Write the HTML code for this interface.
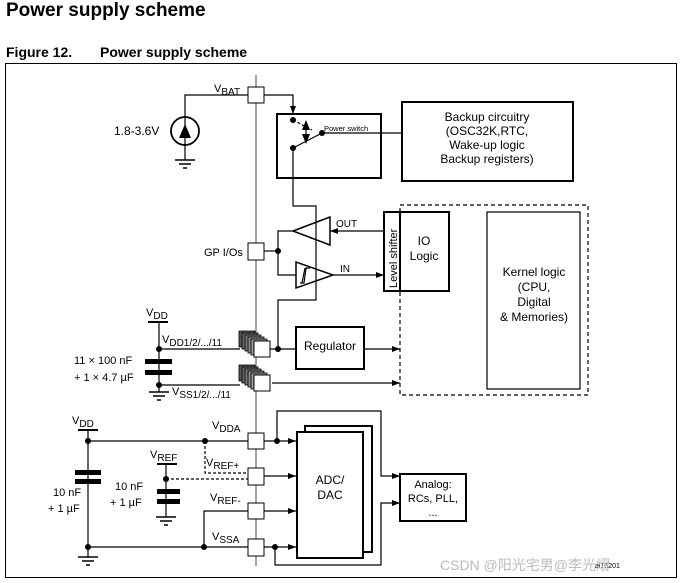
<!DOCTYPE html>
<html><head><style>
html,body{margin:0;padding:0;background:#fff;width:681px;height:583px;overflow:hidden}
svg{display:block;font-family:"Liberation Sans",Arial,sans-serif}
</style></head><body>
<svg width="681" height="583" viewBox="0 0 681 583" xmlns="http://www.w3.org/2000/svg">
<defs>
<marker id="ar" markerWidth="8" markerHeight="8" refX="8" refY="4" orient="auto" markerUnits="userSpaceOnUse"><path d="M0,1 L8,4 L0,7 z" fill="#000"/></marker>
<g id="gnd"><line x1="-10" y1="0" x2="10" y2="0" stroke="#000" stroke-width="1.5"/><line x1="-6" y1="4" x2="6" y2="4" stroke="#000" stroke-width="1.5"/><line x1="-2" y1="8" x2="2" y2="8" stroke="#000" stroke-width="1.5"/></g>
<g id="stk">
<rect x="-13" y="-12" width="16" height="16" fill="#555" stroke="#000" stroke-width="0.8"/>
<rect x="-10" y="-10" width="16" height="16" fill="#666" stroke="#000" stroke-width="0.8"/>
<rect x="-7" y="-8" width="16" height="16" fill="#777" stroke="#000" stroke-width="0.8"/>
<rect x="-4" y="-6" width="16" height="16" fill="#888" stroke="#000" stroke-width="0.8"/>
<rect x="-1" y="-4" width="16" height="16" fill="#999" stroke="#000" stroke-width="0.8"/>
<rect x="2" y="-2" width="16" height="16" fill="#fff" stroke="#000" stroke-width="1"/>
</g>
</defs>
<text x="6" y="16" font-size="19" font-weight="bold">Power supply scheme</text>
<text x="6" y="57" font-size="14" font-weight="bold">Figure 12.</text>
<text x="100" y="57" font-size="14" font-weight="bold">Power supply scheme</text>
<rect x="5.5" y="63.5" width="671" height="514" fill="none" stroke="#000" stroke-width="1"/>

<g stroke="#000" fill="none" stroke-width="1.2">
<line x1="256" y1="75" x2="256" y2="566" stroke="#666"/>
<polyline points="248,95 185,95 185,160"/>
<circle cx="185" cy="131" r="14" stroke-width="1.8"/>
<polyline points="264,95 293,95 293,114" marker-end="url(#ar)"/>
<rect x="277" y="114" width="104" height="64" stroke-width="2"/>
<line x1="322" y1="133" x2="402" y2="133"/>
<line x1="293" y1="148" x2="322" y2="133"/>
<line x1="293" y1="120" x2="312" y2="130" stroke-dasharray="3,2"/>
<line x1="306" y1="122" x2="306" y2="142"/>
<rect x="402" y="102" width="171" height="79" stroke-width="2"/>
<polyline points="293,148 293,206 316,206 316,300 278,300 278,349"/>
<polygon points="293,231 330,217 330,245" stroke-width="1.5"/>
<polygon points="296,262 296,288 333,275" stroke-width="1.5"/>
<polyline points="300,283 304,283 306,268 310,268" />
<polyline points="302,283 305,268"/>
<line x1="384" y1="231" x2="330" y2="231" marker-end="url(#ar)"/>
<line x1="333" y1="275" x2="384" y2="275" marker-end="url(#ar)"/>
<polyline points="264,251 278,251"/>
<polyline points="293,231 278,231 278,275 296,275"/>
<rect x="384" y="212" width="16" height="79" stroke-width="2"/>
<rect x="400" y="212" width="49" height="79" stroke-width="2"/>
<rect x="400" y="205" width="188" height="190" stroke-dasharray="4,3"/>
<rect x="487" y="212" width="93" height="177"/>
<line x1="264" y1="349" x2="296" y2="349"/>
<rect x="296" y="327" width="68" height="42" stroke-width="2"/>
<line x1="364" y1="349" x2="400" y2="349" marker-end="url(#ar)"/>
<line x1="159" y1="385" x2="240" y2="385"/>
<line x1="272" y1="383" x2="400" y2="383" marker-end="url(#ar)"/>
<line x1="148" y1="322" x2="168" y2="322" stroke-width="2"/>
<line x1="159" y1="322" x2="159" y2="392"/>
<line x1="159" y1="349" x2="240" y2="349"/>
<line x1="78" y1="430" x2="98" y2="430" stroke-width="2"/>
<line x1="88" y1="430" x2="88" y2="557"/>
<line x1="88" y1="441" x2="248" y2="441"/>
<line x1="88" y1="547" x2="248" y2="547"/>
<polyline points="205,441 205,473 248,473" stroke-dasharray="3,2"/>
<line x1="157" y1="464" x2="177" y2="464" stroke-width="2"/>
<line x1="166" y1="464" x2="166" y2="517"/>
<line x1="166" y1="479" x2="248" y2="479" stroke-dasharray="3,2"/>
<polyline points="248,511 204,511 204,547"/>
<line x1="264" y1="441" x2="296" y2="441" marker-end="url(#ar)"/>
<line x1="264" y1="476" x2="296" y2="476" marker-end="url(#ar)"/>
<line x1="264" y1="511" x2="296" y2="511" marker-end="url(#ar)"/>
<line x1="264" y1="547" x2="296" y2="547" marker-end="url(#ar)"/>
<polyline points="277,441 277,411 381,411 381,476 400,476" marker-end="url(#ar)"/>
<polyline points="275,547 275,565 381,565 381,503 400,503" marker-end="url(#ar)"/>
<rect x="305" y="426" width="67" height="126" fill="#fff" stroke-width="2"/>
<rect x="297" y="432" width="66" height="126" fill="#fff" stroke-width="2"/>
<rect x="400" y="474" width="66" height="47" stroke-width="2"/>
</g>
<g fill="#000">
<path d="M179,138 L185,124 L191,138 z"/>
<line x1="185" y1="120" x2="185" y2="143" stroke="#000"/>
<path d="M302,130 L306,120 L310,130z M302,134 L306,144 L310,134z"/>
<circle cx="293" cy="120" r="3"/><circle cx="293" cy="148" r="3"/><circle cx="322" cy="133" r="3"/>
<circle cx="278" cy="251" r="3"/><circle cx="278" cy="349" r="3"/>
<circle cx="159" cy="349" r="3"/><circle cx="159" cy="385" r="3"/>
<circle cx="88" cy="441" r="3"/><circle cx="88" cy="547" r="3"/><circle cx="205" cy="441" r="3"/>
<circle cx="166" cy="479" r="3"/><circle cx="204" cy="547" r="3"/>
<circle cx="277" cy="441" r="3"/><circle cx="275" cy="547" r="3"/>
<rect x="145" y="359" width="27" height="5"/><rect x="145" y="370" width="27" height="5"/>
<rect x="75" y="470" width="26" height="5"/><rect x="75" y="479" width="26" height="5"/>
<rect x="157" y="489" width="23" height="5"/><rect x="157" y="499" width="23" height="5"/>
</g>
<use href="#gnd" x="185" y="160"/><use href="#gnd" x="159" y="392"/><use href="#gnd" x="88" y="557"/><use href="#gnd" x="166" y="517"/>
<g fill="#fff" stroke="#000">
<rect x="248" y="87" width="16" height="16"/>
<rect x="248" y="243" width="16" height="17"/>
<rect x="248" y="433" width="16" height="16"/>
<rect x="248" y="468" width="16" height="17"/>
<rect x="248" y="503" width="16" height="16"/>
<rect x="248" y="539" width="16" height="17"/>
</g>
<use href="#stk" x="252" y="343"/>
<use href="#stk" x="252" y="377"/>
<g font-size="11" fill="#000">
<text x="214" y="92">V<tspan font-size="10" dy="3">BAT</tspan></text>
<text x="114" y="135" font-size="12">1.8-3.6V</text>
<text x="324" y="131" font-size="7.5">Power switch</text>
<text x="487" y="121" text-anchor="middle" font-size="12">Backup circuitry</text>
<text x="487" y="135" text-anchor="middle" font-size="12">(OSC32K,RTC,</text>
<text x="487" y="149" text-anchor="middle" font-size="12">Wake-up logic</text>
<text x="487" y="163" text-anchor="middle" font-size="12">Backup registers)</text>
<text x="336" y="227" font-size="10">OUT</text>
<text x="340" y="272" font-size="10">IN</text>
<text x="204" y="256">GP I/Os</text>
<text transform="translate(397,288) rotate(-90)" font-size="11">Level shifter</text>
<text x="424" y="245" text-anchor="middle" font-size="12">IO</text>
<text x="424" y="260" text-anchor="middle" font-size="12">Logic</text>
<text x="534" y="276" text-anchor="middle" font-size="12">Kernel logic</text>
<text x="534" y="291" text-anchor="middle" font-size="12">(CPU,</text>
<text x="534" y="306" text-anchor="middle" font-size="12">Digital</text>
<text x="534" y="321" text-anchor="middle" font-size="12">&amp; Memories)</text>
<text x="330" y="350" text-anchor="middle" font-size="12">Regulator</text>
<text x="146" y="316">V<tspan font-size="10" dy="3">DD</tspan></text>
<text x="162" y="343">V<tspan font-size="10" dy="3">DD1/2/.../11</tspan></text>
<text x="74" y="364">11 × 100 nF</text>
<text x="74" y="381">+ 1 × 4.7 µF</text>
<text x="172" y="395">V<tspan font-size="10" dy="3">SS1/2/.../11</tspan></text>
<text x="72" y="424">V<tspan font-size="10" dy="3">DD</tspan></text>
<text x="212" y="429">V<tspan font-size="10" dy="3">DDA</tspan></text>
<text x="150" y="458">V<tspan font-size="10" dy="3">REF</tspan></text>
<text x="206" y="466">V<tspan font-size="10" dy="3">REF+</tspan></text>
<text x="210" y="501">V<tspan font-size="10" dy="3">REF-</tspan></text>
<text x="212" y="540">V<tspan font-size="10" dy="3">SSA</tspan></text>
<text x="53" y="496">10 nF</text>
<text x="48" y="512">+ 1 µF</text>
<text x="115" y="490">10 nF</text>
<text x="110" y="506">+ 1 µF</text>
<text x="330" y="484" text-anchor="middle" font-size="12">ADC/</text>
<text x="330" y="499" text-anchor="middle" font-size="12">DAC</text>
<text x="433" y="488" text-anchor="middle" font-size="11">Analog:</text>
<text x="433" y="502" text-anchor="middle" font-size="11">RCs, PLL,</text>
<text x="433" y="516" text-anchor="middle" font-size="11">...</text>
<text x="595" y="568" font-size="7">ai15201</text>
</g>
<text x="440" y="570" font-size="14" fill="#bbb" font-family="'Liberation Sans','Noto Sans CJK SC',sans-serif">CSDN @阳光宅男@李光熠</text>
</svg>
</body></html>
